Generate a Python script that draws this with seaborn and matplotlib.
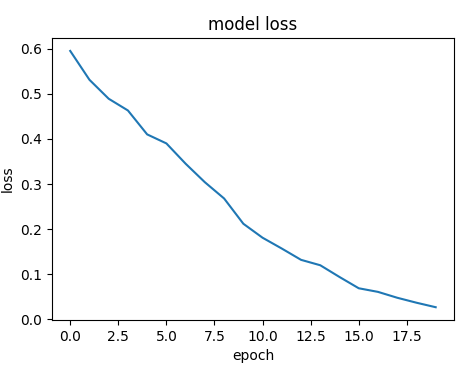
import seaborn as sns
import matplotlib.pyplot as plt
import pandas as pd

# training loss per epoch
epochs = list(range(20))
loss = [0.595, 0.531, 0.489, 0.463, 0.410, 0.390, 0.345, 0.304, 0.268, 0.212,
        0.181, 0.157, 0.132, 0.120, 0.094, 0.069, 0.061, 0.048, 0.037, 0.027]

df = pd.DataFrame({'epoch': epochs, 'loss': loss})

fig = plt.figure(figsize=(4.68, 3.81), dpi=100)
ax = fig.add_axes([0.111, 0.160, 0.859, 0.740])

sns.lineplot(data=df, x='epoch', y='loss', ax=ax, color='#1f77b4', linewidth=1.5)

ax.set_title('model loss', fontsize=12)
ax.set_xlabel('epoch')
ax.set_ylabel('loss')

fig.savefig('out.png', dpi=100)
